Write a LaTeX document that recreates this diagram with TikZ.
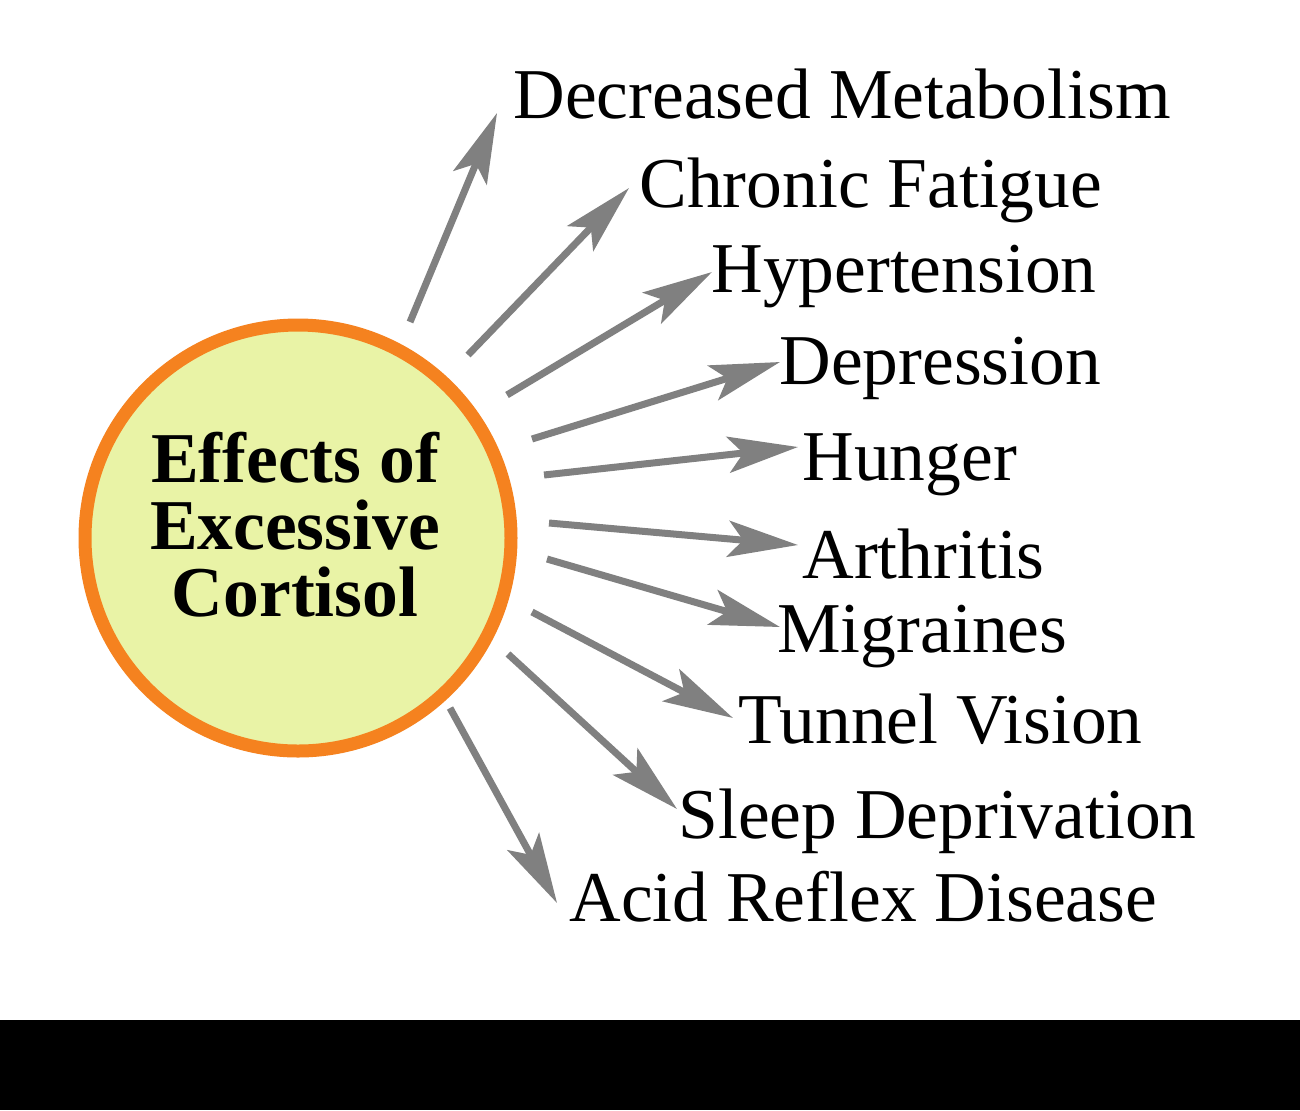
\documentclass[tikz,border=0pt]{standalone}
\usepackage{fontspec}
\setmainfont{Liberation Serif}
\usepackage{tikz}
\usetikzlibrary{arrows.meta, calc}
\definecolor{ringorange}{RGB}{245, 130, 31}
\definecolor{corefill}{RGB}{233, 243, 166}
\definecolor{arrowgrey}{RGB}{128, 128, 128}
\tikzset{
    base/.style={inner sep=0pt, font=\fontsize{35.75}{40}\selectfont},
    core/.style={circle, draw=ringorange, line width=6.5pt, fill=corefill, minimum size=213pt, inner sep=0pt},
    title/.style={base, align=center, font=\fontsize{35.75}{33.5}\selectfont\bfseries},
    effect/.style={base, anchor=base west},
    arrow/.style={line width=3.5pt, -{Stealth[length=35pt, width=18pt, inset=7.5pt]}, color=arrowgrey},
    band/.style={fill=black}
}

\begin{document}
\begin{tikzpicture}[x=0.5pt, y=-0.5pt]
        \path [fill=white, use as bounding box] (0,0) rectangle (1300,1110);

        % -- Centre: the cause --
        \node (cortisol) [core] at (298,538) {};
        \node (title) [title] at ($(cortisol.center)+(-3,-13)$) {Effects of\\ Excessive\\ Cortisol};

        % -- Effects --
        \node (metab) [effect] at (513,118) {Decreased Metabolism};
        \node (fatigue) [effect] at (639,207) {Chronic Fatigue};
        \node (hyper) [effect] at (711,292) {Hypertension};
        \node (depr) [effect] at (779,384) {Depression};
        \node (hunger) [effect] at (802,480) {Hunger};
        \node (arthr) [effect] at (802,578) {Arthritis};
        \node (migr) [effect] at (777,652) {Migraines};
        \node (tunnel) [effect] at (738,743) {Tunnel Vision};
        \node (sleep) [effect] at (678,838) {Sleep Deprivation};
        \node (acid) [effect] at (569,921) {Acid Reflex Disease};

        % Arrow ends
        \coordinate (s1) at (410,322);  \coordinate (t1) at (497,113);
        \coordinate (s2) at (468,355);  \coordinate (t2) at (629,188);
        \coordinate (s3) at (507,395);  \coordinate (t3) at (712,272);
        \coordinate (s4) at (532,439);  \coordinate (t4) at (780,362);
        \coordinate (s5) at (544,475);  \coordinate (t5) at (798,447);
        \coordinate (s6) at (549,523);  \coordinate (t6) at (798,545);
        \coordinate (s7) at (547,559);  \coordinate (t7) at (780,627);
        \coordinate (s8) at (532,612);  \coordinate (t8) at (733,718);
        \coordinate (s9) at (508,654);  \coordinate (t9) at (677,809);
        \coordinate (s10) at (450,708); \coordinate (t10) at (557,903);

        % Connectors
        \draw [arrow] (s1) -- (t1);
        \draw [arrow] (s2) -- (t2);
        \draw [arrow] (s3) -- (t3);
        \draw [arrow] (s4) -- (t4);
        \draw [arrow] (s5) -- (t5);
        \draw [arrow] (s6) -- (t6);
        \draw [arrow] (s7) -- (t7);
        \draw [arrow] (s8) -- (t8);
        \draw [arrow] (s9) -- (t9);
        \draw [arrow] (s10) -- (t10);

        % -- Bottom strip --
        \fill [band] (0,1020) rectangle (1300,1110);
    \end{tikzpicture}
\end{document}
